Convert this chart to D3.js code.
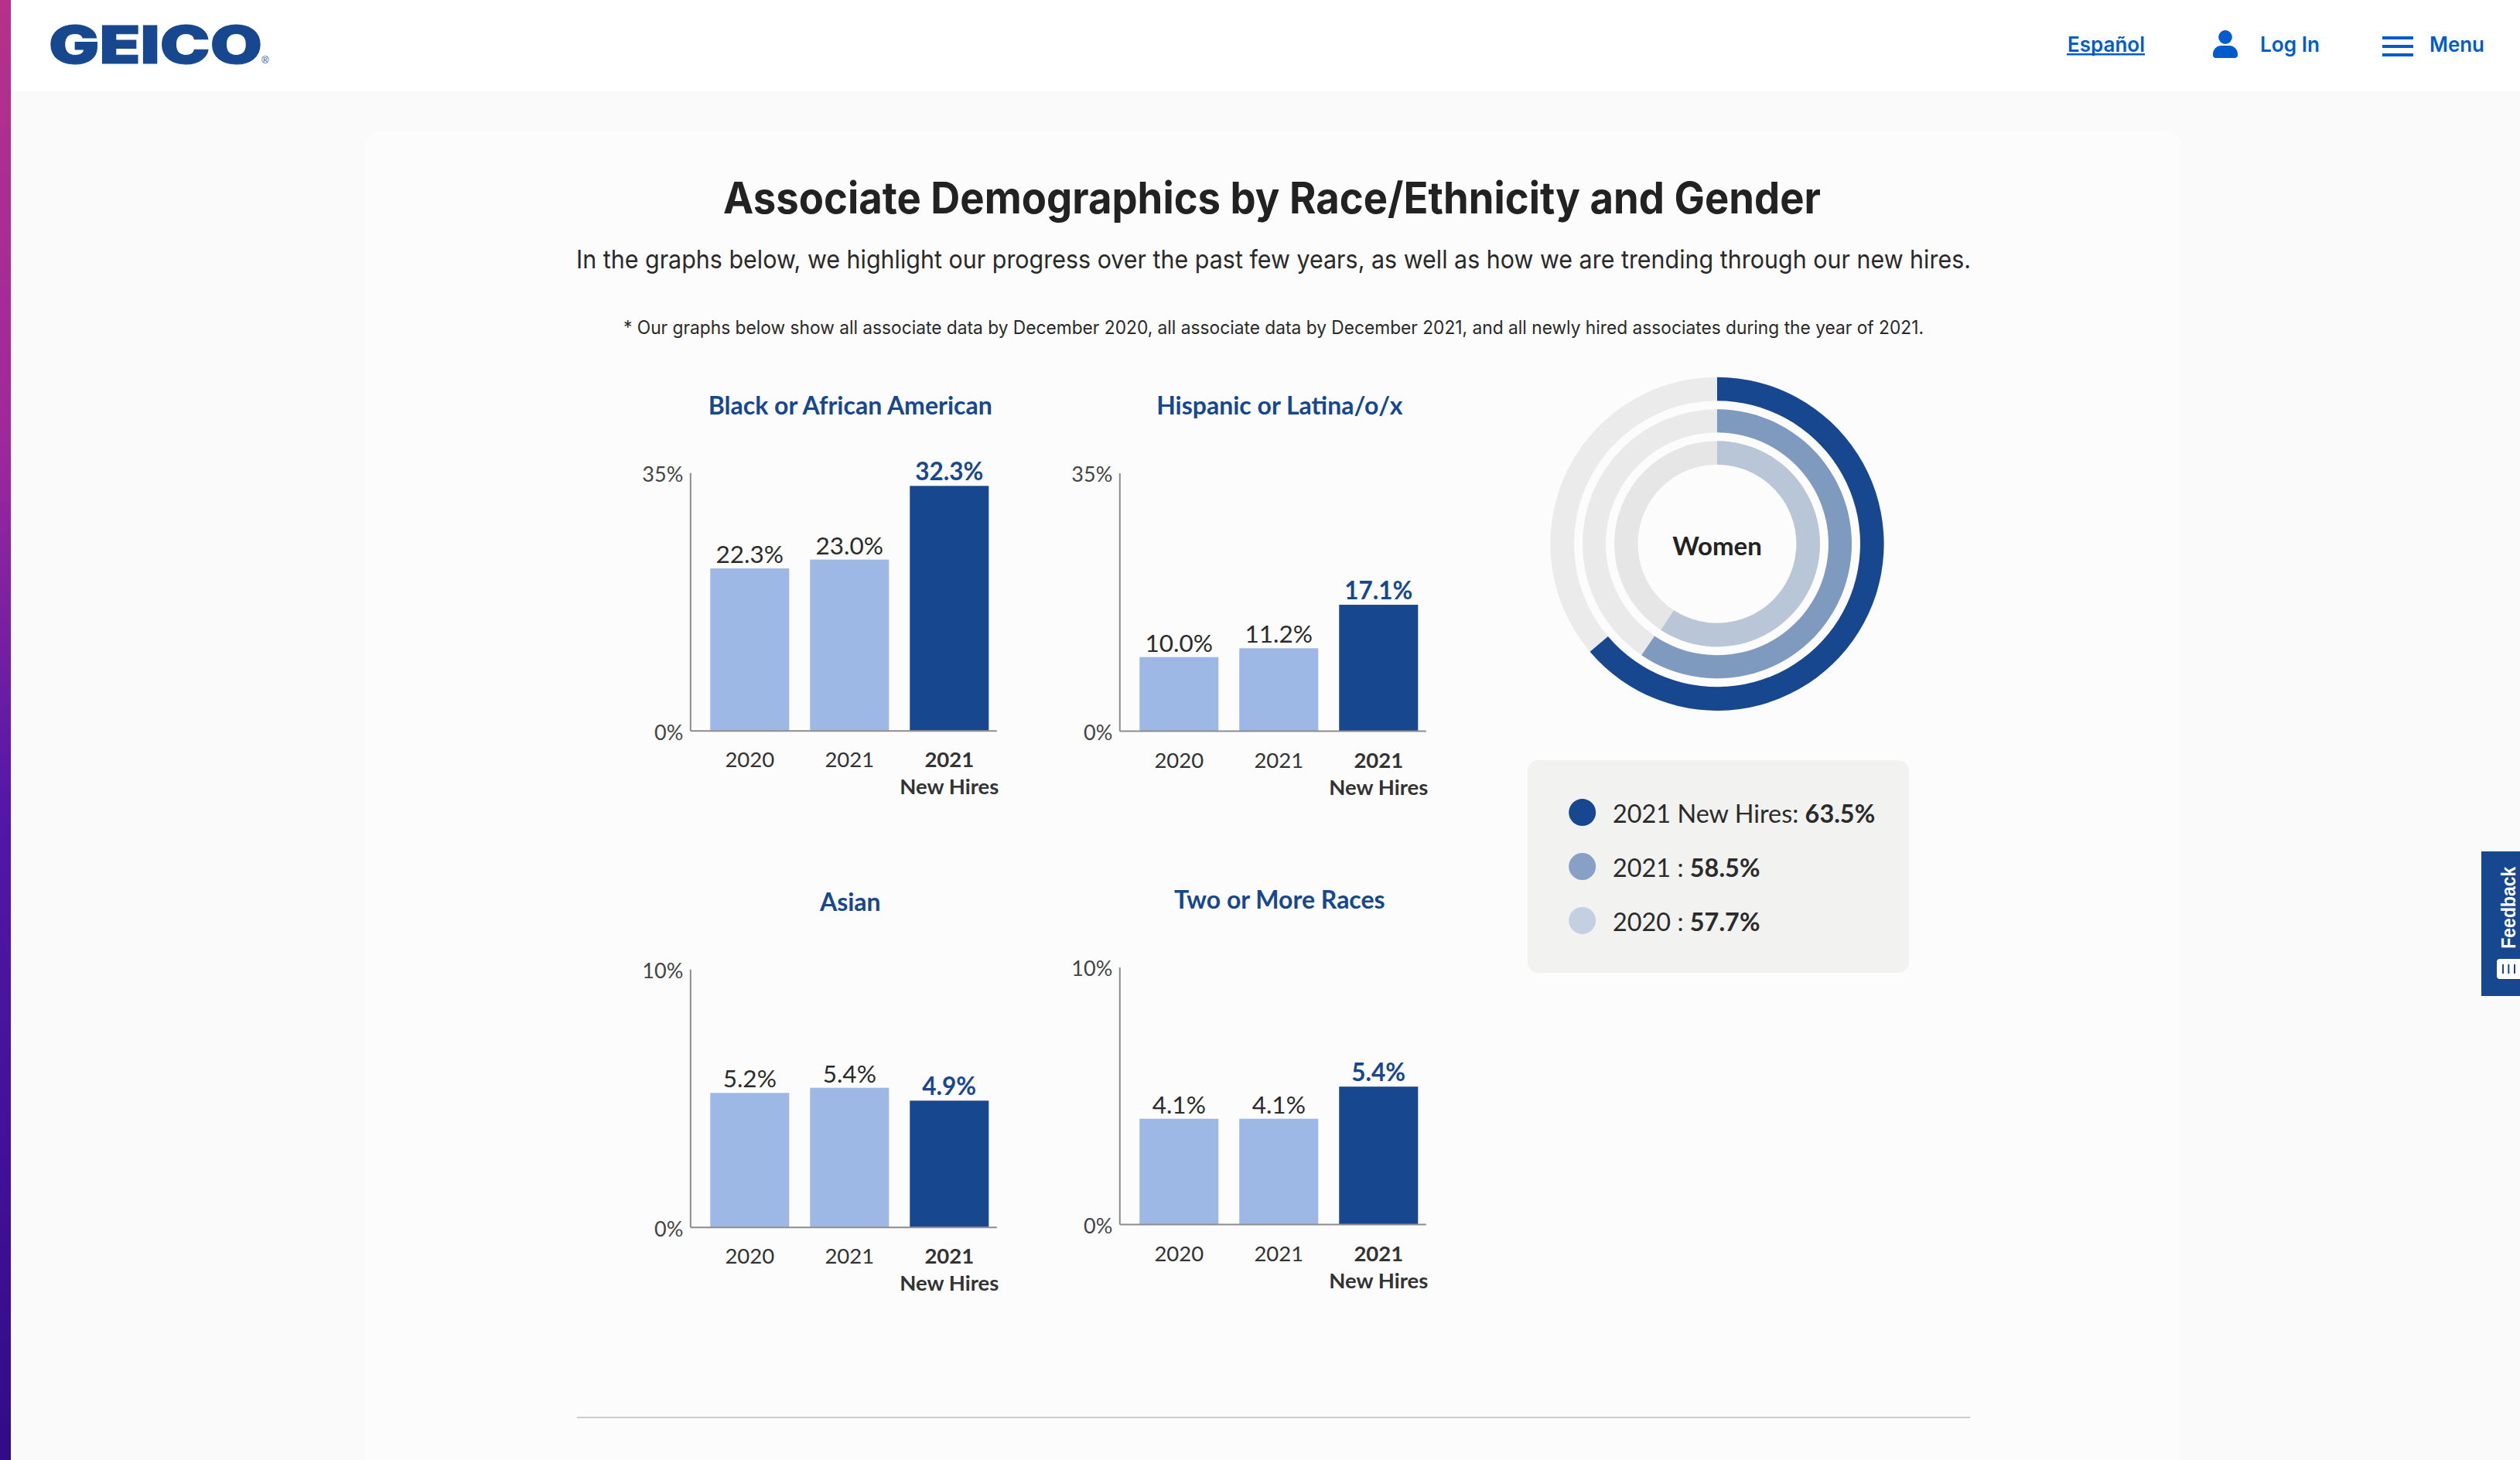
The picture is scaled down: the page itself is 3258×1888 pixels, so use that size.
<!DOCTYPE html>
<html>
<head>
<meta charset="utf-8">
<style>
  html, body { margin: 0; padding: 0; background: #fafafa; overflow: hidden; }
  svg { display: block; }
  .axis path { stroke: #8c8c8c; stroke-width: 2; }
  .axis .tick line { display: none; }
  .y-axis text { font: 400 27px Lato; fill: #444; }
  .x-axis text { font: 400 27.5px Lato; fill: #333; }
</style>
</head>
<body>
<script src="https://d3js.org/d3.v7.min.js"></script>
<script>

var categories = ["2020", "2021", "2021 New Hires"];

// bar heights as read against each axis; the printed labels are kept apart
// because some bars do not quite agree with their own labels
var blackValues = [22.0, 23.2, 33.2];
var blackLabels = ["22.3%", "23.0%", "32.3%"];
var hispanicValues = [10.0, 11.2, 17.1];
var hispanicLabels = ["10.0%", "11.2%", "17.1%"];
var asianValues = [5.2, 5.4, 4.9];
var asianLabels = ["5.2%", "5.4%", "4.9%"];
var twoValues = [4.1, 4.1, 5.35];
var twoLabels = ["4.1%", "4.1%", "5.4%"];

var largeTicks = [0, 35];
var smallTicks = [0, 10];

// same for the rings: arc ends, legend as printed
var ringNames = ["2021 New Hires: ", "2021 : ", "2020 : "];
var ringValues = [63.8, 59.5, 59.2];
var ringLabels = ["63.5%", "58.5%", "57.7%"];

var dark = "#17478f";
var lightBar = "#9db8e4";
var ringColors = [dark, "#7f9abf", "#b9c6d7"];
var trackColors = ["#ebebeb", "#eaeaea", "#e6e6e6"];
var dotColors = [dark, "#88a0c6", "#c2d0e1"];
var navBlue = "#005ccc";
var ink = "#222";

var svg = d3.select("body").append("svg")
    .attr("width", 3258)
    .attr("height", 1888);

var grad = svg.append("defs").append("linearGradient")
    .attr("id", "side")
    .attr("x1", 0).attr("x2", 0).attr("y1", 0).attr("y2", 1);
grad.selectAll("stop")
    .data([[0, "#b5318a"], [0.3, "#a0289c"], [0.55, "#5417a8"], [1, "#300c88"]])
  .enter().append("stop")
    .attr("offset", function(d) { return d[0]; })
    .attr("stop-color", function(d) { return d[1]; });

// page furniture
svg.append("rect").attr("width", 3258).attr("height", 1888).attr("fill", "#fafafa");
svg.append("rect").attr("x", 472).attr("y", 170).attr("width", 2348).attr("height", 1800)
    .attr("rx", 20).attr("fill", "#fcfcfc");
svg.append("rect").attr("width", 3258).attr("height", 118).attr("fill", "#fff");
svg.append("rect").attr("width", 14).attr("height", 1888).attr("fill", "url(#side)");

// logo
svg.append("text")
    .attr("x", 63).attr("y", 81.5)
    .attr("textLength", 276).attr("lengthAdjust", "spacingAndGlyphs")
    .style("font", "900 67px Inter")
    .attr("fill", dark).attr("stroke", dark).attr("stroke-width", 1)
    .text("GEICO");
svg.append("text")
    .attr("x", 338).attr("y", 82)
    .style("font", "400 13px 'Liberation Sans'")
    .attr("fill", dark)
    .text("®");

// nav
function navText(x, width, label) {
  return svg.append("text")
      .attr("x", x).attr("y", 67)
      .attr("textLength", width).attr("lengthAdjust", "spacingAndGlyphs")
      .style("font", "600 27px Inter")
      .attr("fill", navBlue)
      .text(label);
}
navText(2673, 100, "Español");
svg.append("rect").attr("x", 2672).attr("y", 69).attr("width", 101).attr("height", 2.5).attr("fill", navBlue);
svg.append("ellipse").attr("cx", 2877).attr("cy", 48).attr("rx", 8.8).attr("ry", 9).attr("fill", navBlue);
svg.append("path").attr("fill", navBlue)
    .attr("d", "M2861,70 a11,11 0 0 1 11,-11 h10 a11,11 0 0 1 11,11 v1 a4,4 0 0 1 -4,4 h-24 a4,4 0 0 1 -4,-4 z");
navText(2922, 77, "Log In");
svg.selectAll(".burger")
    .data([47, 58, 69])
  .enter().append("rect")
    .attr("class", "burger")
    .attr("x", 3080).attr("y", function(d) { return d; })
    .attr("width", 40).attr("height", 4)
    .attr("fill", navBlue);
navText(3141, 71, "Menu");

// headings
function heading(x0, x1, y, weight, size, color, label) {
  svg.append("text")
      .attr("x", x0).attr("y", y)
      .attr("textLength", x1 - x0).attr("lengthAdjust", "spacingAndGlyphs")
      .style("font", weight + " " + size + "px Inter")
      .attr("fill", color)
      .text(label);
}
heading(935, 2354, 276, 700, 56, ink, "Associate Demographics by Race/Ethnicity and Gender");
heading(745, 2548, 347, 400, 33, "#2a2a2a", "In the graphs below, we highlight our progress over the past few years, as well as how we are trending through our new hires.");
heading(806, 2487, 431.7, 400, 24, "#2a2a2a", "* Our graphs below show all associate data by December 2020, all associate data by December 2021, and all newly hired associates during the year of 2021.");

function barChart(left, baseline, chartHeight, titleY, title, ticks, values, labels) {
  var g = svg.append("g")
      .attr("transform", "translate(" + left + "," + baseline + ")");

  var x = d3.scaleBand()
      .domain(categories)
      .range([0, 396])
      .paddingInner(0.209)
      .paddingOuter(0.1394)
      .align(0.722);

  var y = d3.scaleLinear()
      .domain([0, ticks[1]])
      .range([0, -chartHeight]);

  g.selectAll("rect")
      .data(values)
    .enter().append("rect")
      .attr("x", function(d, i) { return x(categories[i]); })
      .attr("y", function(d) { return y(d); })
      .attr("width", x.bandwidth())
      .attr("height", function(d) { return y(0) - y(d); })
      .attr("fill", function(d, i) { return i == 2 ? dark : lightBar; });

  g.selectAll(".value")
      .data(values)
    .enter().append("text")
      .attr("class", "value")
      .attr("x", function(d, i) { return x(categories[i]) + x.bandwidth() / 2; })
      .attr("y", function(d) { return y(d) - 7; })
      .attr("text-anchor", "middle")
      .style("font", function(d, i) { return (i == 2 ? "700" : "400") + " 31.5px Lato"; })
      .attr("fill", function(d, i) { return i == 2 ? dark : "#2b2b2b"; })
      .text(function(d, i) { return labels[i]; });

  g.append("g")
      .attr("class", "axis y-axis")
      .call(d3.axisLeft(y).tickValues(ticks).tickSize(0).tickPadding(9)
        .tickFormat(function(d) { return d + "%"; }))
    .selectAll("text")
      .attr("dy", "0.42em");

  var xAxis = g.append("g")
      .attr("class", "axis x-axis")
      .call(d3.axisBottom(x).tickSize(0).tickSizeOuter(0));

  xAxis.selectAll(".tick text").each(function(d) {
    var t = d3.select(this).text(null).attr("y", null).attr("dy", null);
    var parts = d == "2021 New Hires" ? ["2021", "New Hires"] : [d];
    parts.forEach(function(p, i) {
      t.append("tspan")
          .attr("x", 0)
          .attr("y", 47.6 + i * 35)
          .style("font-weight", d == "2021 New Hires" ? 700 : 400)
          .text(p);
    });
  });

  svg.append("text")
      .attr("x", left + 207).attr("y", titleY)
      .attr("text-anchor", "middle")
      .style("font", "700 32px Lato")
      .attr("fill", dark)
      .text(title);
}

barChart(892.3, 944.7, 333.5, 535.5, "Black or African American", largeTicks, blackValues, blackLabels);
barChart(1447.3, 945, 333.5, 535.5, "Hispanic or Latina/o/x", largeTicks, hispanicValues, hispanicLabels);
barChart(892.3, 1586.7, 333.4, 1178, "Asian", smallTicks, asianValues, asianLabels);
barChart(1447.3, 1583, 332.4, 1175, "Two or More Races", smallTicks, twoValues, twoLabels);

// rings
var angle = d3.scaleLinear().domain([0, 100]).range([0, 2 * Math.PI]);
var ringRadii = [[185, 215.6], [144, 174], [102.5, 133]];
var arc = d3.arc();

var donut = svg.append("g").attr("transform", "translate(2220,703.3)");

donut.selectAll(".track")
    .data(ringRadii)
  .enter().append("path")
    .attr("class", "track")
    .attr("fill", function(d, i) { return trackColors[i]; })
    .attr("d", function(d) {
      return arc({innerRadius: d[0], outerRadius: d[1], startAngle: 0, endAngle: angle(100)});
    });

donut.selectAll(".ring")
    .data(ringValues)
  .enter().append("path")
    .attr("class", "ring")
    .attr("fill", function(d, i) { return ringColors[i]; })
    .attr("d", function(d, i) {
      return arc({innerRadius: ringRadii[i][0], outerRadius: ringRadii[i][1], startAngle: 0, endAngle: angle(d)});
    });

donut.append("text")
    .attr("y", 14.4)
    .attr("text-anchor", "middle")
    .style("font", "700 33px Lato")
    .attr("fill", ink)
    .text("Women");

// legend
svg.append("rect").attr("x", 1975).attr("y", 983).attr("width", 493).attr("height", 275)
    .attr("rx", 14).attr("fill", "#f2f2f1");

var legendY = d3.scalePoint().domain(ringNames).range([1050.6, 1190.4]);

svg.selectAll(".dot")
    .data(ringNames)
  .enter().append("circle")
    .attr("class", "dot")
    .attr("cx", 2045.7)
    .attr("cy", function(d) { return legendY(d); })
    .attr("r", 17.5)
    .attr("fill", function(d, i) { return dotColors[i]; });

var legendText = svg.selectAll(".legend")
    .data(ringNames)
  .enter().append("text")
    .attr("class", "legend")
    .attr("x", 2085)
    .attr("y", function(d) { return legendY(d) + 13.5; })
    .style("font", "400 32.4px Lato")
    .attr("fill", "#2b2b2b");
legendText.append("tspan").text(function(d) { return d; });
legendText.append("tspan")
    .style("font-weight", 700)
    .text(function(d, i) { return ringLabels[i]; });

// rule at the bottom
svg.append("rect").attr("x", 746).attr("y", 1832).attr("width", 1801).attr("height", 2).attr("fill", "#ccc");

// feedback tab
svg.append("rect").attr("x", 3208).attr("y", 1101).attr("width", 50).attr("height", 187).attr("fill", dark);
svg.append("text")
    .attr("transform", "translate(3251.5,1226.7) rotate(-90)")
    .attr("textLength", 106).attr("lengthAdjust", "spacingAndGlyphs")
    .style("font", "700 26px 'Liberation Sans'")
    .attr("fill", "#fff")
    .text("Feedback");
svg.append("rect").attr("x", 3228).attr("y", 1240).attr("width", 40).attr("height", 26).attr("rx", 4).attr("fill", "#fff");
svg.selectAll(".fb")
    .data([3236, 3243.3, 3251])
  .enter().append("rect")
    .attr("class", "fb")
    .attr("x", function(d) { return d - 1; })
    .attr("y", 1247).attr("width", 2).attr("height", 12)
    .attr("fill", dark);

</script>
</body>
</html>
